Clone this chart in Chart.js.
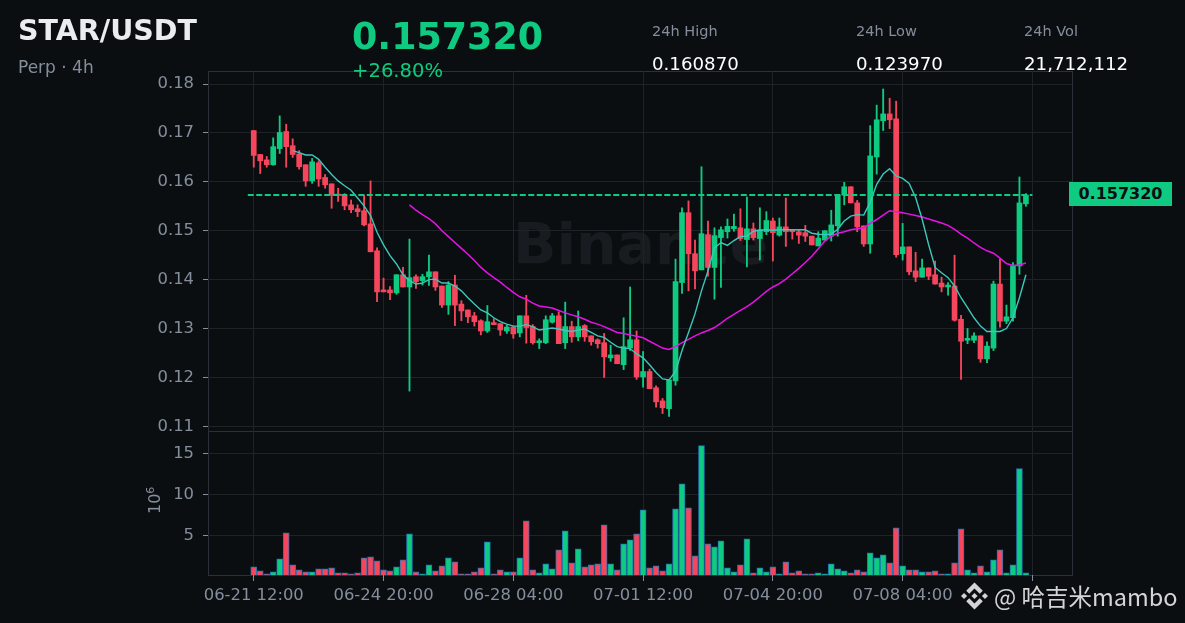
<!DOCTYPE html>
<html>
<head>
<meta charset="utf-8">
<title>STAR/USDT</title>
<script src="https://cdn.jsdelivr.net/npm/chart.js@4/dist/chart.umd.min.js"></script>
<style>
    html, body { margin: 0; padding: 0; background: #0b0e11; overflow: hidden; }
    body { width: 1185px; height: 623px; position: relative; font-family: "DejaVu Sans", sans-serif; }
    canvas { position: absolute; left: 0; top: 0; }
    .txt { position: absolute; white-space: nowrap; line-height: 1; }
    .panel { position: absolute; box-sizing: border-box; border: 1px solid #2b3139; }
    .grey { color: #848e9c; }
    .green { color: #0ecb81; }
</style>
</head>
<body>
<div class="panel" style="left:208px;top:71px;width:865px;height:361px"></div>
<div class="panel" style="left:208px;top:431px;width:865px;height:145px"></div>
<div class="txt" style="left:513px;top:216px;font-size:57px;font-weight:bold;color:#181b1f">Binance</div>

<canvas id="priceChart" width="1185" height="623"></canvas>
<canvas id="volumeChart" width="1185" height="623"></canvas>

<div class="txt" style="left:18px;top:17px;font-size:28.5px;font-weight:bold;color:#eaecef">STAR/USDT</div>
<div class="txt grey" style="left:18px;top:59px;font-size:17px">Perp · 4h</div>
<div class="txt green" style="left:352px;top:19px;font-size:36.4px;font-weight:bold">0.157320</div>
<div class="txt green" style="left:352px;top:61px;font-size:19.6px">+26.80%</div>
<div class="txt grey" style="left:652px;top:24px;font-size:14.5px">24h High</div>
<div class="txt" style="left:652px;top:55px;font-size:18.2px;color:#fff">0.160870</div>
<div class="txt grey" style="left:856px;top:24px;font-size:14.5px">24h Low</div>
<div class="txt" style="left:856px;top:55px;font-size:18.2px;color:#fff">0.123970</div>
<div class="txt grey" style="left:1024px;top:24px;font-size:14.5px">24h Vol</div>
<div class="txt" style="left:1024px;top:55px;font-size:18.2px;color:#fff">21,712,112</div>
<div class="txt" style="left:1069px;top:182px;width:103px;height:24px;line-height:24px;background:#0ecb81;color:#0b0e11;font-size:16px;font-weight:bold;text-align:center">0.157320</div>
<div class="txt grey" style="left:147px;top:514px;font-size:16px;transform-origin:0 0;transform:rotate(-90deg)">10<sup style="font-size:11px;line-height:0">6</sup></div>

<svg style="position:absolute;left:961px;top:582px" width="27" height="28" viewBox="0 0 126.6 126.6">
    <path fill="#d4d4d4" d="M38.7 53.2 63.3 28.6l24.6 24.6 14.3-14.3L63.3 0 24.4 38.9zM0 63.3l14.3-14.3 14.3 14.3-14.3 14.3zM38.7 73.4l24.6 24.6 24.6-24.6 14.3 14.3-38.9 38.9-38.9-38.9zM98 63.3l14.3-14.3 14.3 14.3-14.3 14.3zM77.8 63.3 63.3 48.8 52.6 59.5l-1.2 1.2-2.5 2.5 14.4 14.5 14.5-14.4z"/>
</svg>
<div class="txt" style="left:994px;top:585px;font-size:23.5px;color:#d4d4d4;font-family:'Noto Sans CJK SC','Noto Sans',sans-serif">@ 哈吉米mambo</div>

<script>
    // --- Data ---
    const xTickPositions = [0, 20, 40, 60, 80, 100, 120];
    const xTickLabels = ["06-21 12:00", "06-24 20:00", "06-28 04:00", "07-01 12:00", "07-04 20:00", "07-08 04:00", ""];
    const priceTicks = [0.11, 0.12, 0.13, 0.14, 0.15, 0.16, 0.17, 0.18];
    const volumeTicks = [5, 10, 15];

    const openPrices = [
        .1705,.1656,.1645,.1635,.1668,.1703,.1674,.1657,.1635,.1602,
        .1639,.1609,.1596,.1575,.1572,.1553,.1545,.1541,.1514,.1459,
        .1379,.1379,.1373,.1410,.1385,.1406,.1398,.1406,.1416,.1387,
        .1348,.1389,.1350,.1338,.1326,.1316,.1295,.1312,.1310,.1295,
        .1303,.1291,.1326,.1304,.1271,.1271,.1313,.1326,.1271,.1304,
        .1283,.1306,.1285,.1277,.1271,.1240,.1246,.1226,.1260,.1277,
        .1201,.1212,.1179,.1152,.1136,.1193,.1394,.1537,.1453,.1420,
        .1492,.1425,.1486,.1498,.1504,.1506,.1482,.1504,.1484,.1498,
        .1520,.1491,.1508,.1502,.1498,.1496,.1489,.1469,.1481,.1489,
        .1510,.1573,.1590,.1557,.1510,.1473,.1651,.1725,.1739,.1729,
        .1453,.1467,.1418,.1405,.1424,.1410,.1393,.1385,.1387,.1319,
        .1276,.1276,.1285,.1238,.1260,.1391,.1315,.1322,.1428,.1555
    ];
    const closePrices = [
        .1654,.1643,.1635,.1672,.1701,.1672,.1656,.1631,.1602,.1641,
        .1606,.1594,.1573,.1572,.1551,.1543,.1539,.1512,.1457,.1375,
        .1375,.1373,.1410,.1385,.1404,.1396,.1406,.1416,.1385,.1348,
        .1389,.1348,.1336,.1324,.1314,.1295,.1314,.1308,.1297,.1303,
        .1289,.1326,.1302,.1271,.1275,.1318,.1326,.1269,.1304,.1283,
        .1304,.1283,.1273,.1269,.1242,.1246,.1228,.1263,.1277,.1201,
        .1212,.1177,.1150,.1138,.1195,.1396,.1537,.1453,.1418,.1494,
        .1425,.1490,.1502,.1509,.1509,.1484,.1504,.1486,.1502,.1521,
        .1496,.1508,.1498,.1498,.1491,.1489,.1471,.1485,.1500,.1512,
        .1573,.1590,.1557,.1508,.1473,.1653,.1727,.1739,.1727,.1451,
        .1467,.1416,.1405,.1424,.1407,.1391,.1385,.1389,.1317,.1274,
        .1280,.1285,.1238,.1264,.1391,.1315,.1324,.1428,.1557,.1573
    ];
    const highPrices = [
        .1705,.1656,.1652,.1690,.1735,.1718,.1688,.1664,.1635,.1648,
        .1643,.1615,.1596,.1587,.1576,.1563,.1553,.1573,.1602,.1465,
        .1403,.1386,.1410,.1425,.1483,.1410,.1411,.1450,.1416,.1387,
        .1396,.1409,.1357,.1338,.1333,.1318,.1347,.1320,.1310,.1307,
        .1305,.1326,.1368,.1308,.1279,.1326,.1331,.1334,.1354,.1315,
        .1336,.1308,.1285,.1279,.1290,.1266,.1246,.1322,.1385,.1295,
        .1253,.1217,.1183,.1157,.1195,.1442,.1547,.1561,.1481,.1631,
        .1520,.1506,.1508,.1524,.1534,.1545,.1569,.1516,.1547,.1539,
        .1526,.1526,.1567,.1502,.1502,.1511,.1489,.1498,.1500,.1542,
        .1573,.1599,.1590,.1562,.1510,.1715,.1757,.1790,.1771,.1765,
        .1515,.1467,.1456,.1442,.1424,.1438,.1405,.1394,.1450,.1327,
        .1300,.1291,.1285,.1273,.1397,.1442,.1348,.1435,.1610,.1576
    ];
    const lowPrices = [
        .1630,.1617,.1630,.1634,.1658,.1630,.1650,.1626,.1591,.1597,
        .1591,.1587,.1546,.1560,.1543,.1537,.1529,.1510,.1457,.1355,
        .1375,.1359,.1370,.1385,.1172,.1382,.1389,.1388,.1378,.1343,
        .1329,.1306,.1316,.1312,.1305,.1287,.1292,.1308,.1286,.1290,
        .1280,.1283,.1270,.1268,.1259,.1269,.1311,.1269,.1259,.1272,
        .1275,.1274,.1266,.1260,.1200,.1233,.1228,.1216,.1255,.1196,
        .1180,.1177,.1139,.1126,.1120,.1184,.1372,.1377,.1381,.1420,
        .1407,.1360,.1384,.1485,.1499,.1480,.1426,.1481,.1440,.1492,
        .1438,.1489,.1468,.1483,.1474,.1478,.1471,.1469,.1481,.1479,
        .1489,.1553,.1557,.1498,.1468,.1454,.1616,.1705,.1709,.1446,
        .1440,.1410,.1396,.1405,.1400,.1391,.1375,.1368,.1315,.1196,
        .1269,.1271,.1231,.1230,.1255,.1303,.1310,.1315,.1411,.1550
    ];
    const fastAverage = [
        null,null,null,null,null,null,.1664,.1660,.1655,.1655,
        .1646,.1630,.1615,.1602,.1592,.1583,.1567,.1551,.1531,.1497,
        .1471,.1449,.1432,.1410,.1398,.1391,.1393,.1400,.1401,.1393,
        .1393,.1387,.1377,.1363,.1350,.1338,.1332,.1322,.1314,.1309,
        .1305,.1305,.1308,.1304,.1297,.1299,.1301,.1299,.1296,.1294,
        .1297,.1299,.1292,.1285,.1282,.1272,.1263,.1260,.1259,.1248,
        .1240,.1226,.1210,.1197,.1195,.1212,.1255,.1292,.1330,.1377,
        .1418,.1465,.1476,.1470,.1480,.1488,.1489,.1499,.1501,.1502,
        .1501,.1502,.1502,.1502,.1502,.1502,.1495,.1493,.1492,.1493,
        .1503,.1520,.1530,.1533,.1532,.1558,.1595,.1616,.1627,.1612,
        .1607,.1597,.1568,.1524,.1472,.1425,.1414,.1404,.1387,.1363,
        .1343,.1322,.1305,.1294,.1294,.1294,.1300,.1322,.1363,.1410
    ];
    const slowAverage = [
        null,null,null,null,null,null,null,null,null,null,
        null,null,null,null,null,null,null,null,null,null,
        null,null,null,null,.1553,.1542,.1533,.1525,.1514,.1500,
        .1488,.1476,.1464,.1452,.1439,.1425,.1414,.1404,.1395,.1384,
        .1374,.1365,.1360,.1352,.1346,.1344,.1342,.1337,.1332,.1328,
        .1324,.1319,.1313,.1309,.1304,.1298,.1292,.1290,.1287,.1284,
        .1281,.1274,.1267,.1260,.1257,.1263,.1271,.1278,.1285,.1291,
        .1296,.1302,.1311,.1321,.1329,.1337,.1345,.1354,.1365,.1376,
        .1385,.1392,.1401,.1412,.1423,.1435,.1448,.1463,.1479,.1489,
        .1495,.1498,.1502,.1504,.1506,.1515,.1523,.1532,.1541,.1539,
        .1537,.1534,.1531,.1528,.1524,.1520,.1516,.1511,.1503,.1493,
        .1485,.1475,.1466,.1459,.1454,.1444,.1433,.1429,.1430,.1434
    ];
    const volumes = [
        1.22,.73,.37,.61,2.2,5.37,1.46,.85,.61,.61,
        .98,.98,1.1,.49,.49,.37,.49,2.32,2.44,1.95,
        .85,.73,1.22,2.07,5.24,.61,.37,1.46,.73,1.34,
        2.32,1.83,.37,.37,.61,1.1,4.27,.37,.85,.61,
        .61,2.32,6.83,.85,.49,1.59,.98,3.29,5.61,1.71,
        3.41,1.22,1.46,1.59,6.34,1.59,.85,4.02,4.51,5.24,
        8.17,1.1,1.34,.73,1.59,8.29,11.34,8.41,2.56,15.98,
        4.02,3.66,4.39,1.1,.61,1.46,4.63,.49,1.1,.61,
        1.22,.37,1.83,.49,.73,.37,.37,.49,.37,1.59,
        .98,.73,.49,.85,.61,2.93,2.32,2.68,1.71,5.98,
        1.34,.85,.85,.61,.61,.73,.37,.37,1.71,5.85,
        .85,.49,1.34,.61,2.07,3.29,.49,1.46,13.17,.49
    ];
    const lastPrice = 0.15732;

    // --- Shared styling ---
    const upColor = "#0ecb81";
    const downColor = "#f6465d";
    const gridColor = "#1e2329";
    const textColor = "#848e9c";
    const candleColors = closePrices.map((c, i) => c >= openPrices[i] ? upColor : downColor);
    const tickFont = { family: "'DejaVu Sans'", size: 16.4 };

    const xAxis = (showLabels, height) => ({
        type: "linear",
        offset: false,
        min: -7.05,
        max: 126.1,
        afterBuildTicks: (scale) => { scale.ticks = xTickPositions.map(v => ({ value: v })); },
        afterFit: (scale) => { scale.height = height; },
        grid: { offset: false, color: gridColor, tickColor: showLabels ? textColor : gridColor, tickLength: showLabels ? 6 : 0 },
        border: { display: false },
        ticks: {
            display: showLabels,
            color: textColor,
            font: tickFont,
            maxRotation: 0,
            autoSkip: false,
            padding: 5,
            callback: (v) => xTickLabels[xTickPositions.indexOf(v)]
        }
    });

    const yAxis = (min, max, values, labelOf) => ({
        min: min,
        max: max,
        afterBuildTicks: (scale) => { scale.ticks = values.map(v => ({ value: v })); },
        afterFit: (scale) => { scale.width = 208; },
        grid: { color: gridColor, tickColor: textColor, tickLength: 5 },
        border: { display: false },
        ticks: { color: textColor, font: tickFont, padding: 9, autoSkip: false, callback: labelOf }
    });

    const baseOptions = (padding) => ({
        responsive: false,
        animation: false,
        layout: { padding: padding },
        plugins: { legend: { display: false }, tooltip: { enabled: false } },
        events: []
    });

    // --- Price panel ---
    new Chart(document.getElementById("priceChart"), {
        data: {
            datasets: [
                {
                    type: "line",
                    data: [{ x: -0.92, y: lastPrice }, { x: 120, y: lastPrice }],
                    borderColor: upColor,
                    borderWidth: 1.8,
                    borderDash: [6, 2.5],
                    pointRadius: 0,
                    order: 0
                },
                {
                    type: "line",
                    data: fastAverage.map((v, i) => ({ x: i, y: v })),
                    borderColor: "#3cc8bc",
                    borderWidth: 1.4,
                    pointRadius: 0,
                    order: 1
                },
                {
                    type: "line",
                    data: slowAverage.map((v, i) => ({ x: i, y: v })),
                    borderColor: "#e812e8",
                    borderWidth: 1.5,
                    pointRadius: 0,
                    order: 1
                },
                {
                    type: "bar",
                    data: openPrices.map((v, i) => ({ x: i, y: [v, closePrices[i]] })),
                    backgroundColor: candleColors,
                    barThickness: 5,
                    grouped: false,
                    order: 2
                },
                {
                    type: "bar",
                    data: lowPrices.map((v, i) => ({ x: i, y: [v, highPrices[i]] })),
                    backgroundColor: candleColors,
                    barThickness: 1.2,
                    grouped: false,
                    order: 3
                }
            ]
        },
        options: {
            ...baseOptions({ top: 71, bottom: 192, left: 0, right: 113 }),
            scales: {
                x: xAxis(false, 0),
                y: yAxis(0.10904, 0.18268, priceTicks, (v) => v.toFixed(2))
            }
        }
    });

    // --- Volume panel ---
    new Chart(document.getElementById("volumeChart"), {
        type: "bar",
        data: {
            datasets: [{
                data: volumes.map((v, i) => ({ x: i, y: v })),
                backgroundColor: candleColors,
                borderColor: "#1f77b4",
                borderWidth: 1,
                barThickness: 6
            }]
        },
        options: {
            ...baseOptions({ top: 431, bottom: 0, left: 0, right: 113 }),
            scales: {
                x: xAxis(true, 48),
                y: yAxis(0.22, 17.76, volumeTicks, (v) => String(v))
            }
        }
    });
</script>
</body>
</html>
